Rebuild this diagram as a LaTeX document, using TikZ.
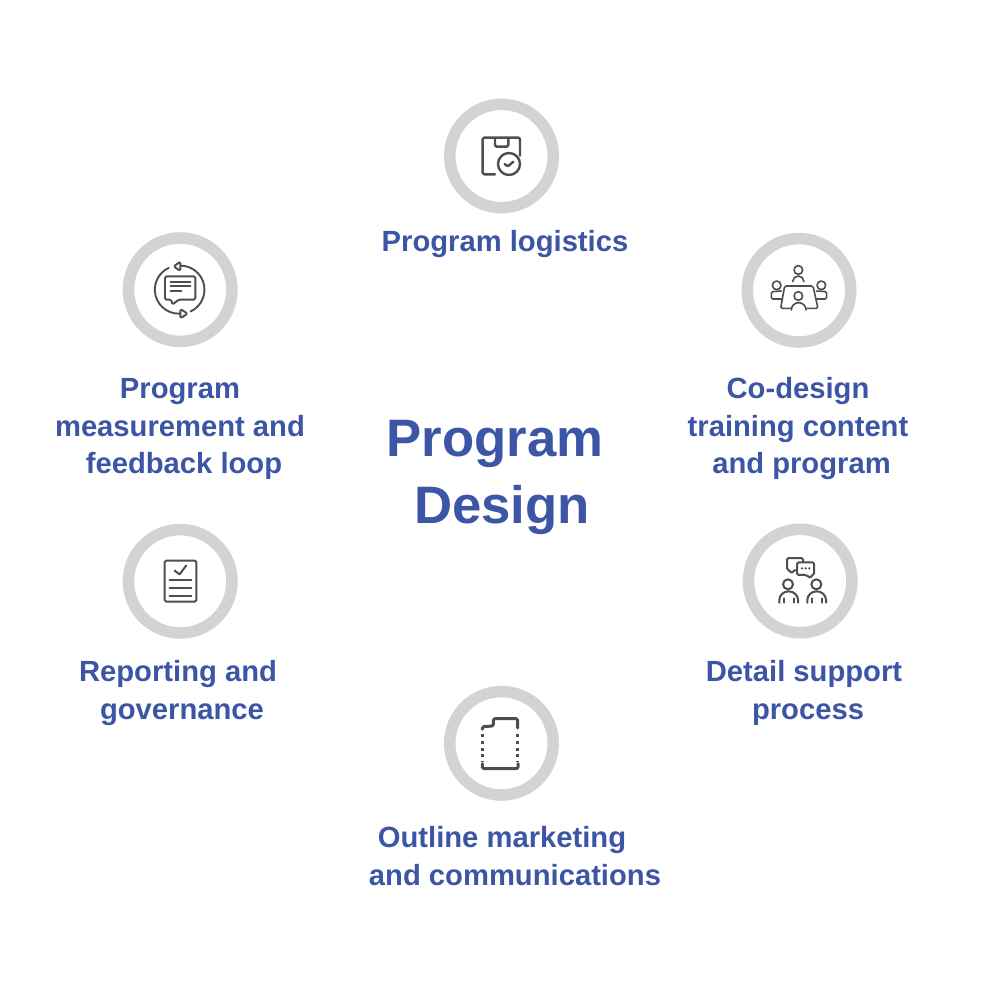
\documentclass[tikz,border=0pt]{standalone}
\usepackage{fontspec}
\setmainfont{Liberation Sans}
\definecolor{ringgray}{HTML}{D1D3D4}
\definecolor{iconink}{HTML}{4D4E50}
\definecolor{labelblue}{HTML}{3C55A5}
\tikzset{
  ring/.style={circle,draw=ringgray,line width=11.5pt,minimum size=103.5pt,inner sep=0pt,fill=white},
  lbl/.style={text=labelblue,align=center,inner sep=0pt,font=\fontsize{29.2}{37.5}\bfseries\selectfont},
  ttl/.style={text=labelblue,align=center,inner sep=0pt,font=\fontsize{52.7}{67}\bfseries\selectfont},
  ico/.style={x=0.3333pt,y=-0.3333pt,draw=iconink,line width=#1,line cap=round,line join=round,rounded corners=1.5pt},
  ico/.default=2.4pt
}
\begin{document}
\begin{tikzpicture}[x=1pt,y=-1pt]
\useasboundingbox (0,0) rectangle (1000,1000);
\node[ring] (r1) at (501.5,156) {};
\node[ring] (r2) at (799,290.3) {};
\node[ring] (r3) at (180.2,289.7) {};
\node[ring] (r4) at (180.2,581.3) {};
\node[ring] (r5) at (800.2,581) {};
\node[ring] (r6) at (501.5,743.3) {};
% labels
\node[ttl] (title) at (495,477.5) {Program\\\hspace*{14pt}Design};
\node[lbl] (l1) at (505,244) {Program logistics};
\node[lbl] (l2) at (798,429) {Co-design\\training content\\\hspace*{7pt}and program};
\node[lbl] (l3) at (180,429) {Program\\measurement and\\\hspace*{8pt}feedback loop};
\node[lbl] (l4) at (178,693) {Reporting and\\\hspace*{8pt}governance};
\node[lbl] (l5) at (804,693) {Detail support\\\hspace*{8pt}process};
\node[lbl] (l6) at (515,856) {Outline marketing\hspace*{26pt}\\and communications};
% icon 1
\begin{scope}[shift={(440,95)},ico]
\draw (165,238) -- (128,238) -- (128,128) -- (240,128) -- (240,182);
\draw (165,130) -- (165,155) -- (205,155) -- (205,130);
\draw[sharp corners] (207,207) circle (33);
\draw (194,207) -- (203,215) -- (220,200);
\end{scope}
% icon 2
\begin{scope}[shift={(738,230)},ico=1.6pt]
\draw[sharp corners] (181,120) circle (13) (181,198) circle (13) (116,166) circle (13) (250,166) circle (13);
\draw[sharp corners] (164,155) arc[start angle=180,end angle=0,x radius=17,y radius=-17];
\draw[sharp corners] (160,240) arc[start angle=180,end angle=0,x radius=22,y radius=-22];
\draw (158,235) -- (128,235) -- (140,168) -- (225,168) -- (240,235) -- (207,235);
\draw (133,207) -- (100,207) -- (100,185) -- (130,183);
\draw (233,207) -- (266,207) -- (266,185) -- (236,183);
\end{scope}
% icon 3
\begin{scope}[shift={(118,228)},ico=1.9pt]
\draw[sharp corners] (190,113) arc[start angle=88,end angle=-65,x radius=72,y radius=-72];
\draw[sharp corners] (185,257) arc[start angle=272,end angle=115,x radius=72,y radius=-72];
\draw (187,101) -- (187,129) -- (167,115) -- cycle;
\draw (187,243) -- (187,271) -- (209,257) -- cycle;
\draw (141,145) -- (232,145) -- (232,215) -- (182,215) -- (163,230) -- (160,215) -- (141,215) -- cycle;
\draw (158,161) -- (217,161) (158,175) -- (217,175) (158,190) -- (190,190);
\end{scope}
% icon 4
\begin{scope}[shift={(118,520)},ico=2.0pt]
\draw (140,122) rectangle (235,245);
\draw[sharp corners] (170,152) -- (185,163) -- (205,136);
\draw (155,181) -- (220,181) (155,204) -- (220,204) (155,227) -- (220,227);
\end{scope}
% icon 5
\begin{scope}[shift={(738,520)},ico=2.0pt]
\draw (195,125) -- (195,114) -- (147,114) -- (147,150) -- (155,150) -- (158,160) -- (172,150);
\draw (177,127) -- (228,127) -- (228,165) -- (220,165) -- (218,175) -- (205,165) -- (177,165) -- cycle;
\fill[iconink] (192,145) circle (3.6) (203,145) circle (3.6) (214,145) circle (3.6);
\draw[sharp corners] (150,193) circle (15) (235,193) circle (15);
\draw[sharp corners] (124,248) -- (124,240) arc[start angle=180,end angle=0,x radius=28,y radius=-26] -- (180,248);
\draw[sharp corners] (208,248) -- (208,240) arc[start angle=180,end angle=0,x radius=28,y radius=-26] -- (264,248);
\draw (137,235) -- (137,248) (168,235) -- (168,248) (221,235) -- (221,248) (252,235) -- (252,248);
\end{scope}
% icon 6
\begin{scope}[shift={(440,682)},ico=3pt]
\draw (127,142) -- (127,134) -- (160,132) -- (160,110) -- (233,110) -- (233,138);
\draw[sharp corners,line cap=butt,dash pattern=on 3pt off 3.8pt,line width=3pt] (128,156) -- (128,238);
\draw[sharp corners,line cap=butt,dash pattern=on 3pt off 3.8pt,line width=3pt] (232,156) -- (232,238);
\draw (127,245) -- (127,260) -- (234,260) -- (234,245);
\end{scope}
\end{tikzpicture}
\end{document}
